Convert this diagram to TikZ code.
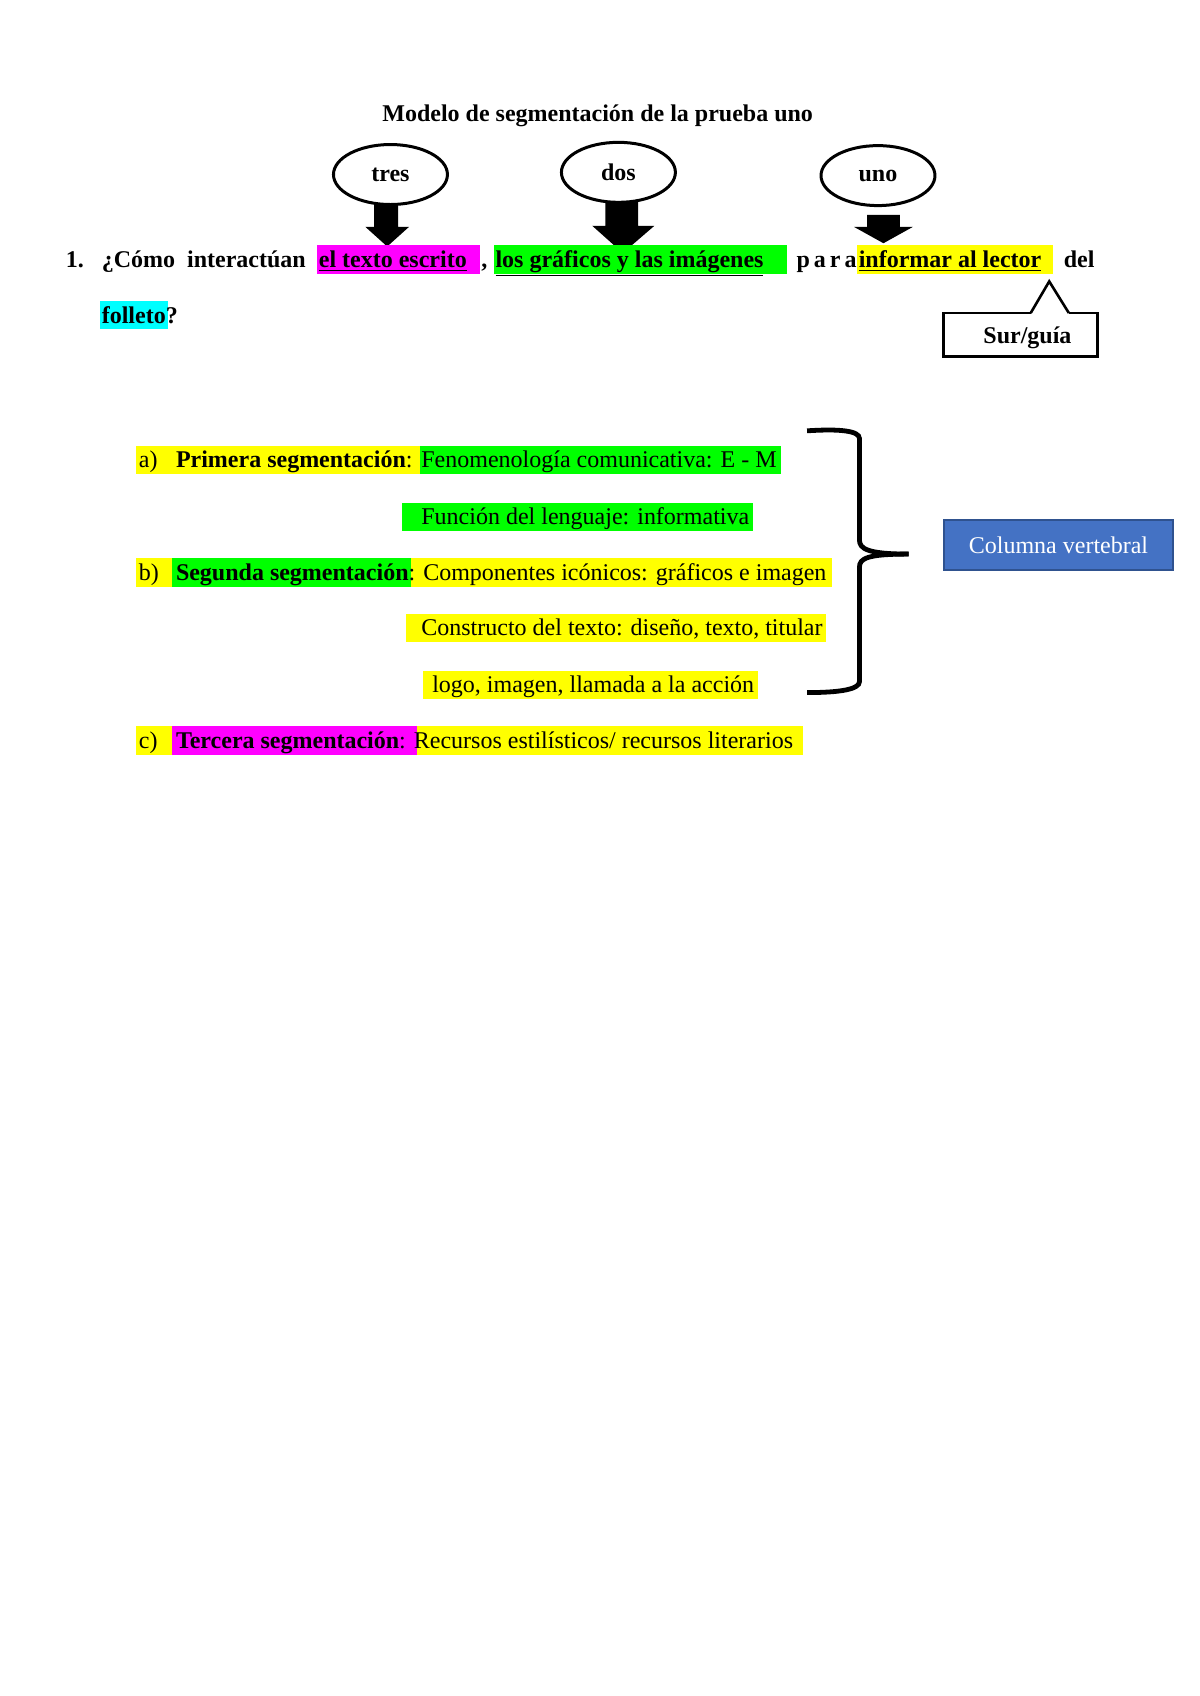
\documentclass[tikz,border=0pt]{standalone}
\usepackage{fontspec}
\setmainfont{Liberation Serif}
\usetikzlibrary{shapes.geometric}
\definecolor{hmag}{RGB}{255,0,255}
\definecolor{hgreen}{RGB}{0,255,0}
\definecolor{hyel}{RGB}{255,255,0}
\definecolor{hcyan}{RGB}{0,255,255}
\definecolor{cblue}{RGB}{68,114,196}
\definecolor{cbord}{RGB}{47,82,143}
\begin{document}
\begin{tikzpicture}[x=0.54545pt,y=-0.54545pt,font=\fontsize{12}{14}\selectfont,
  txt/.style={inner sep=0pt,anchor=base west},
  oval/.style={draw,line width=1.5pt,ellipse,minimum width=57pt,minimum height=30pt,inner sep=0pt},
  blk/.style={fill=black}]
\useasboundingbox (0,0) rectangle (1100,1555);
\fill[white] (0,0) rectangle (1100,1555);
\node[txt,anchor=base] (title) at (548,111) {\bfseries Modelo de segmentación de la prueba uno};
% ovals
\node[oval] (tres) at (358,160) {\bfseries tres};
\node[oval] (dos) at (567,158) {\bfseries dos};
\node[oval] (uno) at (805,161) {\bfseries uno};
% block arrows
\fill[blk] (343,188) -- (365,188) -- (365,208) -- (375,208) -- (355,226) -- (335,208) -- (343,208) -- cycle;
\fill[blk] (555,185) -- (585,185) -- (585,207) -- (600,207) -- (571,232) -- (543,207) -- (555,207) -- cycle;
\fill[blk] (795,197) -- (825,197) -- (825,208) -- (837,208) -- (810,223) -- (783,208) -- (795,208) -- cycle;
% highlights
\fill[hmag] (291,225) rectangle (440,251);
\fill[hgreen] (453,225) rectangle (722,251);
\fill[hyel] (786,225) rectangle (965,251);
\fill[hcyan] (92,276) rectangle (154,302);
\begin{scope}[every node/.style={txt,font=\fontsize{12}{14}\selectfont\bfseries}]
\node (n1) at (60,245) {1.};
\node (q1) at (93,245) {¿Cómo\ \ interactúan};
\node (q2) at (292,245) {\underline{el texto escrito}};
\node at (441,245) {,};
\node (q3) at (454,245) {\underline{los gráficos y las imágenes}};
\node (q4) at (730,245) {p\,a\,r\,a};
\node (q5) at (787,245) {\underline{informar al lector}};
\node (q6) at (975,245) {del};
\node (q7) at (93,297) {folleto?};
\end{scope}
% callout
\draw[line width=1.3pt] (945,287) -- (865,287) -- (865,327) -- (1006,327) -- (1006,287) -- (980,287);
\draw[line width=1.3pt] (945,287) -- (962,258) -- (980,287);
\node[txt,anchor=base] (sur) at (942,315) {\bfseries Sur/guía};
% item highlights
\fill[hyel] (125,409) rectangle (385,435);
\fill[hgreen] (385,409) rectangle (716,435);
\fill[hgreen] (369,461) rectangle (690,487);
\fill[hyel] (125,512) rectangle (158,538);
\fill[hgreen] (158,512) rectangle (377,538);
\fill[hyel] (377,512) rectangle (763,538);
\fill[hyel] (372,563) rectangle (757,589);
\fill[hyel] (388,615) rectangle (695,641);
\fill[hyel] (125,666) rectangle (158,692);
\fill[hmag] (158,666) rectangle (382,692);
\fill[hyel] (382,666) rectangle (736,692);
\node[txt] (a) at (127,429) {a)};
\node[txt] (a1) at (161,429) {\textbf{Primera segmentación}:};
\node[txt] (a2) at (386,429) {Fenomenología comunicativa: E - M};
\node[txt] (a3) at (386,481) {Función del lenguaje: informativa};
\node[txt] (b) at (127,532) {b)};
\node[txt] (b1) at (161,532) {\textbf{Segunda segmentación}: Componentes icónicos: gráficos e imagen};
\node[txt] (b2) at (386,583) {Constructo del texto: diseño, texto, titular};
\node[txt] (b3) at (396,635) {logo, imagen, llamada a la acción};
\node[txt] (c) at (127,686) {c)};
\node[txt] (c1) at (161,686) {\textbf{Tercera segmentación}: Recursos estilísticos/ recursos literarios};
% brace
\draw[line width=2.4pt] (740,395) .. controls (770,393) and (788,395) .. (788,402) -- (788,495) .. controls (788,503) and (795,508) .. (833,508);
\draw[line width=2.4pt] (740,635) .. controls (770,635) and (788,632) .. (788,625) -- (788,520) .. controls (788,512) and (795,508) .. (833,508);
% blue box
\node[draw=cbord,line width=1pt,fill=cblue,text=white,minimum width=115pt,minimum height=25pt,inner sep=0pt] (col) at (970.5,500) {Columna vertebral};
\end{tikzpicture}
\end{document}
